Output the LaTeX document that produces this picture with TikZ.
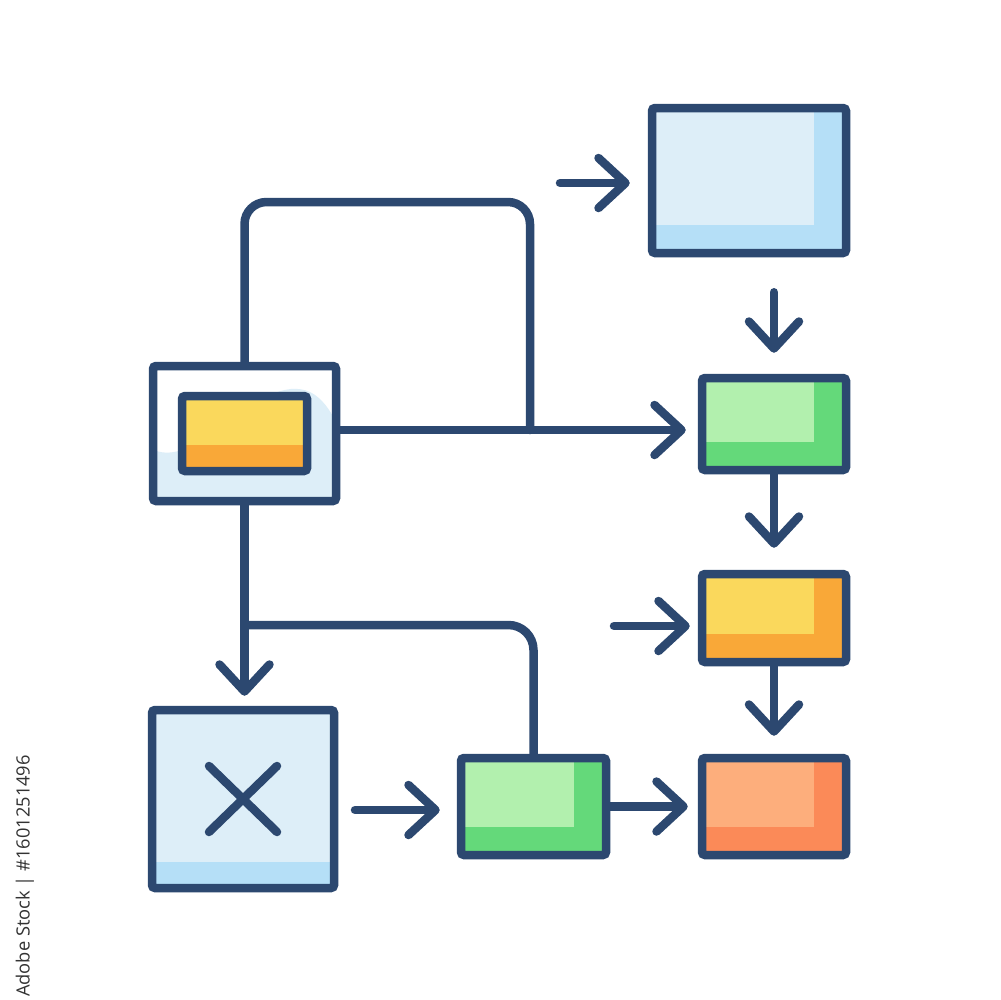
\documentclass[tikz,border=0pt]{standalone}
\usepackage{fontspec}
\newfontfamily\markfont{Open Sans}
\usetikzlibrary{arrows.meta}
\definecolor{lineBlue}{HTML}{2C4870}
\definecolor{paleBlue}{HTML}{DDEEF8}
\definecolor{skyBlue}{HTML}{B5DFF7}
\definecolor{paleGreen}{HTML}{B2F0AE}
\definecolor{leafGreen}{HTML}{64D97A}
\definecolor{sunYellow}{HTML}{FAD85C}
\definecolor{amber}{HTML}{F9A838}
\definecolor{peach}{HTML}{FDAE7C}
\definecolor{coral}{HTML}{FB8A58}
\definecolor{markGray}{HTML}{333333}

\begin{document}
\begin{tikzpicture}[x=0.1mm,y=-0.1mm]

            \tikzstyle{flowLine} = [lineBlue, line width=0.85mm, line cap=round, line join=round];
            \tikzstyle{flowArrow} = [flowLine, -{Straight Barb[length=2.7mm,width=5mm,round]}];
            \tikzstyle{baseBox} = [draw=lineBlue, line width=0.85mm, rounded corners=0.3mm, inner sep=0pt];
            \tikzstyle{cardBox} = [baseBox, path picture={\fill[sharp corners,#1] (path picture bounding box.north west) rectangle ([xshift=-3.2mm,yshift=2.8mm]path picture bounding box.south east);}];
            \tikzstyle{stripBox} = [baseBox, path picture={\fill[sharp corners,#1] ([yshift=2.6mm]path picture bounding box.south west) rectangle (path picture bounding box.south east);}];

            \fill[white] (0,0) rectangle (1000,1000);
            \useasboundingbox (0,0) rectangle (1000,1000);

            % left column
            \fill[paleBlue] (154,450) .. controls (200,470) and (260,370) .. (310,392)
              .. controls (322,398) and (330,410) .. (336,422) -- (336,501) -- (154,501) -- cycle;
            \node[baseBox, minimum width=18.3mm, minimum height=13.5mm] (mainBox) at (244.5,433.5) {};
            \node[stripBox=amber, fill=sunYellow, minimum width=12.5mm, minimum height=7.5mm] (innerBox) at (244.5,433.5) {};
            \node[stripBox=skyBlue, fill=paleBlue, minimum width=18.2mm, minimum height=17.8mm] (xBox) at (243,799) {};
            \draw[flowLine] ([shift={(-34,-33)}]xBox.center) -- ([shift={(34,33)}]xBox.center);
            \draw[flowLine] ([shift={(34,-33)}]xBox.center) -- ([shift={(-34,33)}]xBox.center);

            % right column
            \node[cardBox=paleBlue, fill=skyBlue, minimum width=19.4mm, minimum height=14.5mm] (topBox) at (749,180.5) {};
            \node[cardBox=paleGreen, fill=leafGreen, minimum width=14.4mm, minimum height=9.2mm] (greenA) at (774,424) {};
            \node[cardBox=sunYellow, fill=amber, minimum width=14.4mm, minimum height=8.8mm] (yellowA) at (774,618) {};
            \node[cardBox=peach, fill=coral, minimum width=14.4mm, minimum height=9.7mm] (orangeA) at (774,806.5) {};
            \node[cardBox=paleGreen, fill=leafGreen, minimum width=14.5mm, minimum height=9.7mm] (greenB) at (533.5,806.5) {};

            \coordinate (joinA) at (530,430);
            \coordinate (branchA) at (241,625);
            \coordinate (topIn) at (560,183);
            \coordinate (yellowIn) at (614,626);
            \coordinate (greenIn) at (355,810);

            % connectors
            \draw[flowLine, rounded corners=2.2mm] (mainBox.north) |- (joinA |- 0,202) -- (joinA);
            \draw[flowArrow, shorten >=1.2mm] (mainBox.east |- joinA) -- (greenA.west |- joinA);
            \draw[flowArrow, shorten >=1.8mm] (topIn) -- (topIn -| topBox.west);
            \draw[flowArrow, shorten <=3.5mm, shorten >=2.1mm] (greenA.north |- topBox.south) -- (greenA.north);
            \draw[flowArrow, shorten >=2.2mm] (greenA.south) -- (yellowA.north);
            \draw[flowArrow, shorten >=0.8mm] (yellowIn) -- (yellowIn -| yellowA.west);
            \draw[flowArrow, shorten >=1.8mm] (yellowA.south) -- (orangeA.north);
            \draw[flowArrow, shorten >=1.0mm] (greenB.east) -- (orangeA.west);
            \draw[flowArrow, shorten >=1.7mm] (greenIn) -- (greenIn -| greenB.west);
            \draw[flowArrow, shorten >=1.0mm] (mainBox.south) -- (mainBox.south |- xBox.north);
            \draw[flowLine, rounded corners=2.5mm] (mainBox.south |- branchA) -| (greenB.north);

            \node[rotate=90, text=markGray, inner sep=0pt, font=\markfont\fontsize{5.2pt}{6pt}\selectfont] (stockMark) at (25,876) {Adobe Stock | \#1601251496};
\end{tikzpicture}
\end{document}
